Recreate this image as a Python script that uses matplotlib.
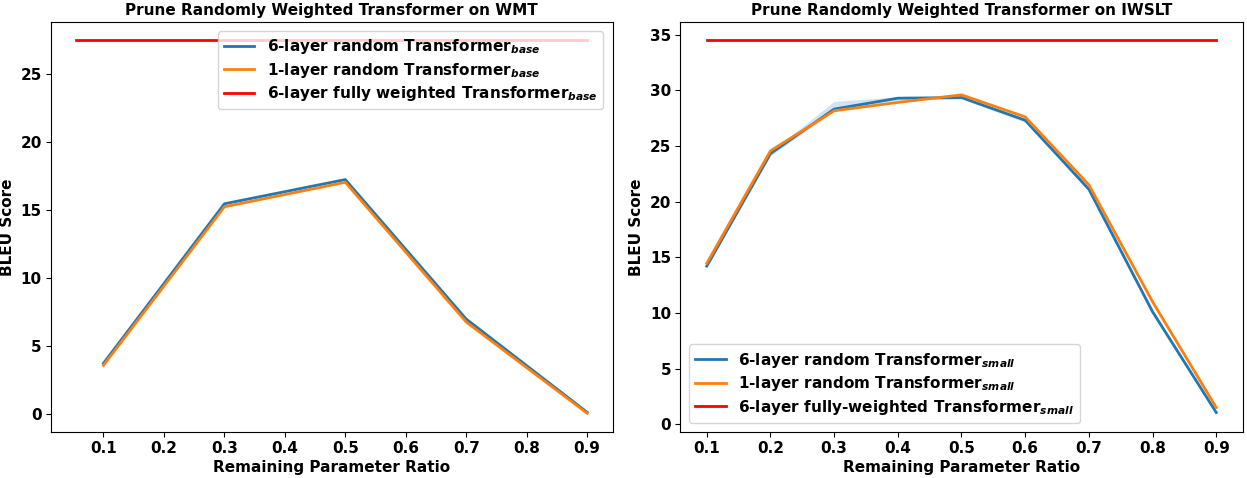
import matplotlib
matplotlib.use("Agg")
import matplotlib.pyplot as plt

plt.rcParams["font.family"] = ["DejaVu Sans"]
plt.rcParams["font.weight"] = "bold"
plt.rcParams["axes.labelweight"] = "bold"
plt.rcParams["axes.titleweight"] = "bold"
plt.rcParams["mathtext.fontset"] = "dejavusans"

# WMT panel
wmt_ratio = [0.1, 0.3, 0.5, 0.7, 0.9]
wmt_6layer = [3.75, 15.47, 17.25, 7.0, 0.15]
wmt_1layer = [3.6, 15.25, 17.05, 6.78, 0.08]
wmt_full_x = [0.055, 0.9]
wmt_full = [27.47, 27.47]

# IWSLT panel
iwslt_ratio = [0.1, 0.2, 0.3, 0.4, 0.5, 0.6, 0.7, 0.8, 0.9]
iwslt_6layer = [14.2, 24.3, 28.3, 29.28, 29.34, 27.3, 21.1, 10.1, 1.05]
iwslt_6layer_lo = [14.1, 24.1, 28.1, 29.1, 29.2, 27.1, 20.9, 9.9, 0.95]
iwslt_6layer_hi = [14.3, 24.45, 29.0, 29.4, 29.45, 27.45, 21.3, 10.3, 1.15]
iwslt_1layer = [14.45, 24.55, 28.15, 28.9, 29.58, 27.6, 21.5, 11.0, 1.5]
iwslt_full_x = [0.1, 0.9]
iwslt_full = [34.47, 34.47]

ticks = [0.1, 0.2, 0.3, 0.4, 0.5, 0.6, 0.7, 0.8, 0.9]

fig = plt.figure(figsize=(12.47, 4.78), dpi=100)
ax1 = fig.add_axes([0.0407, 0.0962, 0.4506, 0.8584])
ax2 = fig.add_axes([0.5453, 0.0962, 0.4515, 0.8584])

lw = 2.0
blue, orange, red = "tab:blue", "tab:orange", "red"

# left
ax1.plot(wmt_full_x, wmt_full, color=red, lw=lw, zorder=1)
ax1.plot(wmt_ratio, wmt_6layer, color=blue, lw=lw,
         label=r"6-layer random Transformer$_{\mathbfit{base}}$")
ax1.plot(wmt_ratio, wmt_1layer, color=orange, lw=lw,
         label=r"1-layer random Transformer$_{\mathbfit{base}}$")
ax1.plot([], [], color=red, lw=lw,
         label=r"6-layer fully weighted Transformer$_{\mathbfit{base}}$")
ax1.set_xlim(0.0128, 0.9422)
ax1.set_ylim(-1.3, 28.85)
ax1.set_yticks([0, 5, 10, 15, 20, 25])
ax1.set_xticks(ticks)
ax1.set_title("Prune Randomly Weighted Transformer on WMT", fontsize=11, pad=5)
ax1.set_xlabel("Remaining Parameter Ratio", fontsize=11, labelpad=3)
ax1.set_ylabel("BLEU Score", fontsize=11)
ax1.yaxis.set_label_coords(-0.064, 0.5)
ax1.legend(loc="upper right", fontsize=11, labelspacing=0.3,
           borderaxespad=0.6)

# right
ax2.plot(iwslt_full_x, iwslt_full, color=red, lw=lw, zorder=1)
ax2.fill_between(iwslt_ratio, iwslt_6layer_lo, iwslt_6layer_hi, color=blue,
                 alpha=0.2, lw=0)
ax2.plot(iwslt_ratio, iwslt_6layer, color=blue, lw=lw,
         label=r"6-layer random Transformer$_{\mathbfit{small}}$")
ax2.plot(iwslt_ratio, iwslt_1layer, color=orange, lw=lw,
         label=r"1-layer random Transformer$_{\mathbfit{small}}$")
ax2.plot([], [], color=red, lw=lw,
         label=r"6-layer fully-weighted Transformer$_{\mathbfit{small}}$")
ax2.set_xlim(0.058, 0.942)
ax2.set_ylim(-0.7, 36.15)
ax2.set_yticks([0, 5, 10, 15, 20, 25, 30, 35])
ax2.set_xticks(ticks)
ax2.set_title("Prune Randomly Weighted Transformer on IWSLT", fontsize=11, pad=5)
ax2.set_xlabel("Remaining Parameter Ratio", fontsize=11, labelpad=3)
ax2.set_ylabel("BLEU Score", fontsize=11)
ax2.yaxis.set_label_coords(-0.064, 0.5)
ax2.legend(loc="lower left", fontsize=11, labelspacing=0.3,
           borderaxespad=0.6)

for ax in (ax1, ax2):
    ax.tick_params(labelsize=11, pad=3)
    for lab in ax.get_xticklabels() + ax.get_yticklabels():
        lab.set_fontweight("bold")

fig.savefig("out.png", dpi=100)
